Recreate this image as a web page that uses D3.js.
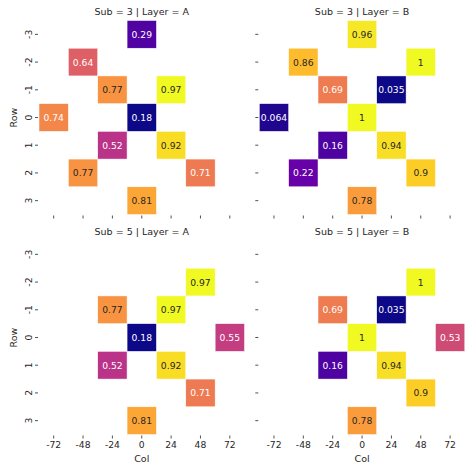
<!DOCTYPE html>
<html>
<head>
<meta charset="utf-8">
<script src="https://cdn.jsdelivr.net/npm/d3@7"></script>
<style>
  body { margin: 0; background: #fff; }
  text { font-family: "DejaVu Sans", sans-serif; fill: #262626; }
</style>
</head>
<body>
<div id="chart"></div>
<script>
// Row / column categories
var rows = [-3, -2, -1, 0, 1, 2, 3];
var cols = [-72, -48, -24, 0, 24, 48, 72];

// Cell values, one 7x7 grid per facet (null = empty cell)
var sub3A = [
  [null, null, null, 0.29, null, null, null],
  [null, 0.64, null, null, null, null, null],
  [null, null, 0.77, null, 0.97, null, null],
  [0.74, null, null, 0.18, null, null, null],
  [null, null, 0.52, null, 0.92, null, null],
  [null, 0.77, null, null, null, 0.71, null],
  [null, null, null, 0.81, null, null, null]
];
var sub3B = [
  [null, null, null, 0.96, null, null, null],
  [null, 0.86, null, null, null, 1.0, null],
  [null, null, 0.69, null, 0.035, null, null],
  [0.064, null, null, 1.0, null, null, null],
  [null, null, 0.16, null, 0.94, null, null],
  [null, 0.22, null, null, null, 0.9, null],
  [null, null, null, 0.78, null, null, null]
];
var sub5A = [
  [null, null, null, null, null, null, null],
  [null, null, null, null, null, 0.97, null],
  [null, null, 0.77, null, 0.97, null, null],
  [null, null, null, 0.18, null, null, 0.55],
  [null, null, 0.52, null, 0.92, null, null],
  [null, null, null, null, null, 0.71, null],
  [null, null, null, 0.81, null, null, null]
];
var sub5B = [
  [null, null, null, null, null, null, null],
  [null, null, null, null, null, 1.0, null],
  [null, null, 0.69, null, 0.035, null, null],
  [null, null, null, 1.0, null, null, 0.53],
  [null, null, 0.16, null, 0.94, null, null],
  [null, null, null, null, null, 0.9, null],
  [null, null, null, 0.78, null, null, null]
];

var panelTitles = ["Sub = 3 | Layer = A", "Sub = 3 | Layer = B", "Sub = 5 | Layer = A", "Sub = 5 | Layer = B"];
var panelGrids = [sub3A, sub3B, sub5A, sub5B];

var width = 474, height = 469;
var colX = [39, 259.3];     // left edge of heatmap per facet column
var rowY = [20.5, 240.5];   // top edge of heatmap per facet row
var pw = 205.5, ph = 194;

var svg = d3.select("#chart").append("svg")
    .attr("width", width)
    .attr("height", height);

var fmt = d3.format(".2~g");

// seaborn-like annotation colour choice
function lum(c) {
  var rgb = d3.rgb(c);
  var lin = [rgb.r, rgb.g, rgb.b].map(function(v) {
    v = v / 255;
    return v <= 0.03928 ? v / 12.92 : Math.pow((v + 0.055) / 1.055, 2.4);
  });
  return 0.2126 * lin[0] + 0.7152 * lin[1] + 0.0722 * lin[2];
}

panelGrids.forEach(function(grid, p) {
  var pc = p % 2, pr = Math.floor(p / 2);
  var g = svg.append("g").attr("transform", `translate(${colX[pc]}, ${rowY[pr]})`);

  var x = d3.scaleBand().domain(cols).range([0, pw]);
  var y = d3.scaleBand().domain(rows).range([0, ph]);

  // flatten grid into cells
  var cells = [];
  grid.forEach(function(r, i) {
    r.forEach(function(v, j) {
      if (v !== null) cells.push({ row: rows[i], col: cols[j], value: v });
    });
  });

  var ext = d3.extent(cells, d => d.value);
  var color = d3.scaleSequential(d3.interpolatePlasma).domain(ext);

  g.selectAll("rect")
    .data(cells)
    .enter()
    .append("rect")
    .attr("x", d => x(d.col))
    .attr("y", d => y(d.row))
    .attr("width", x.bandwidth())
    .attr("height", y.bandwidth())
    .attr("fill", d => color(d.value))
    .attr("stroke", "#fff")
    .attr("stroke-width", 0.5);

  g.selectAll("text.annot")
    .data(cells)
    .enter()
    .append("text")
    .attr("class", "annot")
    .attr("x", d => x(d.col) + x.bandwidth() / 2)
    .attr("y", d => y(d.row) + y.bandwidth() / 2)
    .attr("text-anchor", "middle")
    .attr("dominant-baseline", "central")
    .style("font-size", "9.2px")
    .style("fill", d => lum(color(d.value)) > 0.408 ? "#262626" : "#fff")
    .text(d => fmt(d.value));

  // x axis (labels only on bottom facets)
  var xAxis = d3.axisBottom(x).tickSize(3).tickPadding(4);
  if (pr === 0) xAxis.tickFormat("");
  var xg = g.append("g").attr("transform", `translate(0, ${ph})`).call(xAxis);

  // y axis (labels only on left facets)
  var yAxis = d3.axisLeft(y).tickSize(3).tickPadding(4);
  if (pc === 1) yAxis.tickFormat("");
  var yg = g.append("g").attr("transform", "translate(-1, 0)").call(yAxis);

  [xg, yg].forEach(function(a) {
    a.select(".domain").remove();
    a.selectAll(".tick line").attr("stroke", "#262626").attr("stroke-width", 0.8);
    a.selectAll(".tick text").style("font-size", "9.2px").attr("fill", "#262626");
  });
  xg.selectAll(".tick line").attr("y1", 1).attr("y2", 4);

  // vertical y tick labels
  yg.selectAll(".tick text")
    .attr("x", null).attr("dy", null)
    .attr("text-anchor", "middle")
    .attr("dominant-baseline", "central")
    .attr("transform", "translate(-10, 0) rotate(-90)");

  // facet title
  g.append("text")
    .attr("x", pw / 2)
    .attr("y", -9)
    .attr("text-anchor", "middle")
    .attr("dominant-baseline", "central")
    .style("font-size", "9.5px")
    .text(panelTitles[p]);

  if (pc === 0) {
    g.append("text")
      .attr("transform", `translate(-26, ${ph / 2}) rotate(-90)`)
      .attr("text-anchor", "middle")
      .attr("dominant-baseline", "central")
      .style("font-size", "9.5px")
      .text("Row");
  }
  if (pr === 1) {
    g.append("text")
      .attr("x", pw / 2)
      .attr("y", ph + 24)
      .attr("text-anchor", "middle")
      .attr("dominant-baseline", "central")
      .style("font-size", "9.5px")
      .text("Col");
  }
});
</script>
</body>
</html>
